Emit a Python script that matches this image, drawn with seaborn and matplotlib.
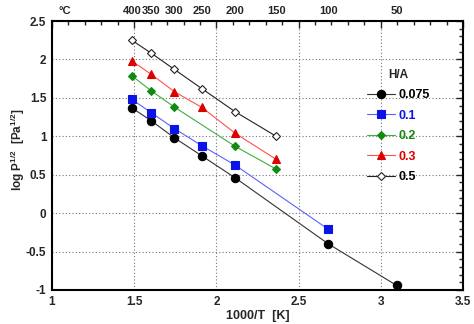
import numpy as np
import pandas as pd
import matplotlib
matplotlib.use("Agg")
import matplotlib.pyplot as plt
import seaborn as sns
from matplotlib.ticker import MultipleLocator
from matplotlib.lines import Line2D

# ---- data ----
x_all = [1.486, 1.605, 1.745, 1.912, 2.114, 2.364, 2.681, 3.096]

x_0075 = [1.486, 1.605, 1.745, 1.912, 2.114, 2.681, 3.096]
y_0075 = [1.37, 1.20, 0.98, 0.745, 0.46, -0.40, -0.94]

x_01 = [1.486, 1.605, 1.745, 1.912, 2.114, 2.681]
y_01 = [1.48, 1.306, 1.10, 0.877, 0.625, -0.21]

x_02 = [1.486, 1.605, 1.745, 2.114, 2.364]
y_02 = [1.787, 1.59, 1.38, 0.87, 0.573]

x_03 = [1.486, 1.605, 1.745, 1.912, 2.114, 2.364]
y_03 = [1.98, 1.805, 1.58, 1.376, 1.04, 0.70]

x_05 = [1.486, 1.605, 1.745, 1.912, 2.114, 2.364]
y_05 = [2.25, 2.08, 1.87, 1.62, 1.32, 1.00]

series_labels = ["0.075", "0.1", "0.2", "0.3", "0.5"]
temp_labels = ["400", "350", "300", "250", "200", "150", "100", "50"]

series = [
    (x_0075, y_0075, "0.075", "o", "black", "black", "#333333", 6.0, "black"),
    (x_01, y_01, "0.1", "s", "#0a14e6", "#0a14e6", "#5a62ff", 6.0, "#0a14e6"),
    (x_02, y_02, "0.2", "D", "#128a12", "#128a12", "#3fae3f", 4.5, "#128a12"),
    (x_03, y_03, "0.3", "^", "#dd0000", "#dd0000", "#ff5050", 6.0, "#dd0000"),
    (x_05, y_05, "0.5", "D", "white", "#222222", "#222222", 4.5, "black"),
]

sns.set_style("white")
plt.rcParams['font.family'] = ['Liberation Sans', 'DejaVu Sans']
plt.rcParams['font.weight'] = 'bold'
plt.rcParams['mathtext.fontset'] = 'custom'
plt.rcParams['mathtext.rm'] = 'Liberation Sans:bold'
plt.rcParams['mathtext.bf'] = 'Liberation Sans:bold'
plt.rcParams['mathtext.default'] = 'bf'

fig = plt.figure(figsize=(4.74, 3.24), dpi=100)
ax = fig.add_axes([0.1097, 0.105, 0.867, 0.830])

for xs, ys, lab, mk, fc, ec, lc, ms, tc in series:
    df = pd.DataFrame({"x": xs, "y": ys})
    sns.lineplot(data=df, x="x", y="y", ax=ax, color=lc, lw=0.8,
                 marker=mk, markersize=ms, markerfacecolor=fc,
                 markeredgecolor=ec, markeredgewidth=0.8, zorder=3)

ax.set_xlim(1, 3.5)
ax.set_ylim(-1, 2.5)
ax.xaxis.set_major_locator(MultipleLocator(0.5))
ax.xaxis.set_minor_locator(MultipleLocator(0.1))
ax.yaxis.set_major_locator(MultipleLocator(0.5))
ax.yaxis.set_minor_locator(MultipleLocator(0.1))
ax.set_xticklabels([f"{v:g}" for v in ax.get_xticks()])
ax.set_yticklabels([f"{v:g}" for v in ax.get_yticks()])
ax.tick_params(which='both', direction='in', top=True, right=True,
               labelsize=8.5, width=1.0, pad=4)
ax.tick_params(which='major', length=5)
ax.tick_params(which='minor', length=3)
for lbl in ax.get_xticklabels() + ax.get_yticklabels():
    lbl.set_fontweight('bold')
ax.grid(True, which='major', linestyle=(0, (1, 2)), color='#777777', lw=0.8)
for s in ax.spines.values():
    s.set_linewidth(1.5)
    s.set_color('black')

ax.set_xlabel("1000/T  [K]", fontsize=9, fontweight='bold', labelpad=2)
ax.set_ylabel(r"log P$^{1/2}$  [Pa$^{1/2}$]", fontsize=8.5, fontweight='bold')
ax.yaxis.set_label_coords(-0.06, 0.52)

# top temperature labels
for xv, t in zip(x_all, temp_labels):
    ax.text(xv, 1.02, t, transform=ax.get_xaxis_transform(), ha='center',
            va='bottom', fontsize=8, fontweight='bold')
ax.text(1.08, 1.02, "°C", transform=ax.get_xaxis_transform(), ha='center',
        va='bottom', fontsize=8, fontweight='bold')

# legend
handles = []
for xs, ys, lab, mk, fc, ec, lc, ms, tc in series:
    handles.append(Line2D([0], [0], color=lc, lw=0.8, marker=mk, markersize=ms,
                          markerfacecolor=fc, markeredgecolor=ec, markeredgewidth=0.8))
leg = ax.legend(handles, series_labels, title="H/A", loc='upper left',
                bbox_to_anchor=(0.74, 0.865), frameon=False, fontsize=9,
                title_fontsize=8.5, handlelength=2.2, handletextpad=0.3,
                labelspacing=0.68)
leg.get_title().set_fontweight('bold')
for txt, s in zip(leg.get_texts(), series):
    txt.set_color(s[8])
    txt.set_fontweight('bold')

fig.savefig("out.png", dpi=100)
